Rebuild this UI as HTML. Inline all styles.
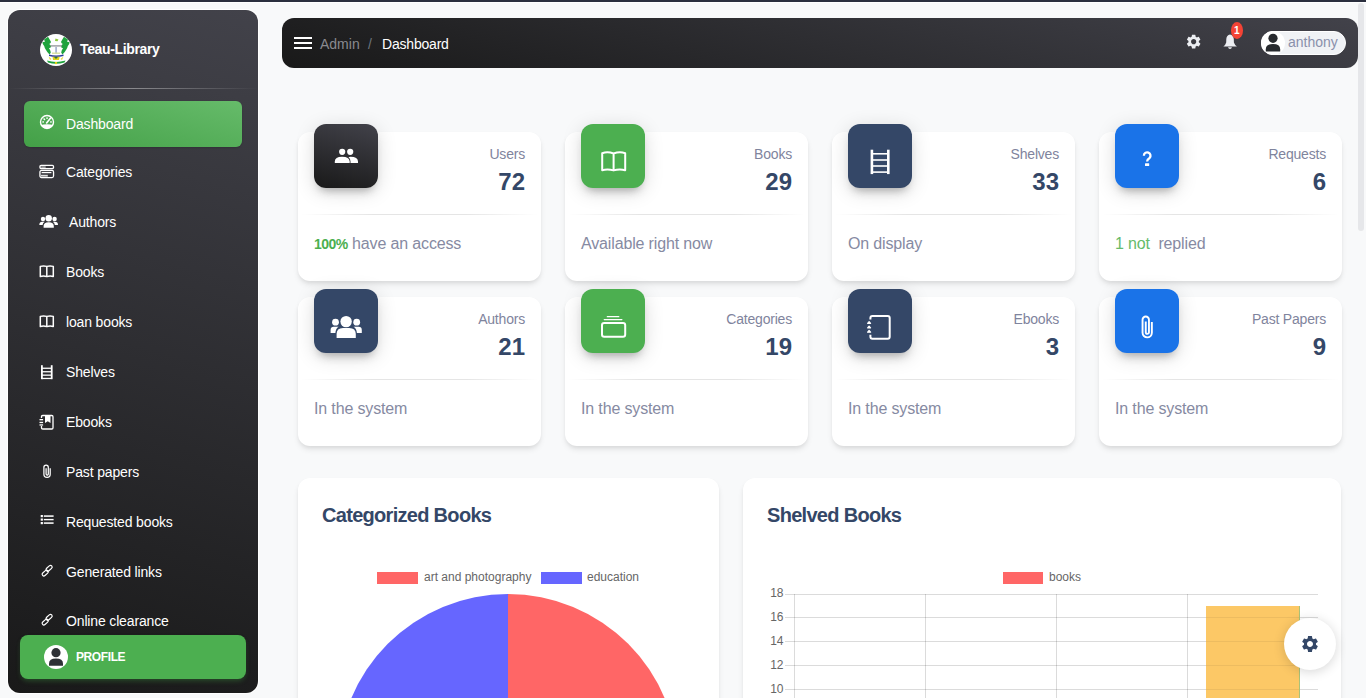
<!DOCTYPE html>
<html><head><meta charset="utf-8">
<style>
*{box-sizing:border-box;margin:0;padding:0}
html,body{width:1366px;height:698px;overflow:hidden;background:#f8f9fa;font-family:"Liberation Sans",sans-serif;}
.abs{position:absolute}
svg{position:absolute;overflow:visible}
.topline{position:absolute;left:0;top:0;width:1366px;height:2px;background:#2b2f3e}
.topwhite{position:absolute;left:0;top:2px;width:1366px;height:1px;background:#fff}
#side{position:absolute;left:8px;top:10px;width:250px;height:683px;border-radius:12px;background:linear-gradient(195deg,#42424a,#191919);box-shadow:0 0 0 1px #fff}
.brandtxt{position:absolute;left:72px;top:31px;color:#fff;font-weight:bold;font-size:14px;letter-spacing:-0.35px}
.hr{position:absolute;left:0;top:78px;width:250px;height:1px;background:linear-gradient(90deg,rgba(255,255,255,0),rgba(255,255,255,.4),rgba(255,255,255,0))}
.nav{position:absolute;left:16px;width:218px;height:46px;border-radius:6px;color:#fff;font-size:14px}
.nav.active{background:linear-gradient(195deg,#66bb6a,#43a047);box-shadow:0 1px 2px rgba(0,0,0,.15)}
.nav .t{position:absolute;left:42px;top:15px;white-space:nowrap;letter-spacing:-0.15px}
.profile{position:absolute;left:12px;top:625px;width:226px;height:44px;border-radius:8px;background:#4caf50;box-shadow:0 3px 5px -1px rgba(76,175,80,.35),0 2px 4px -1px rgba(0,0,0,.3)}
.profile .t{position:absolute;left:56px;top:15px;color:#fff;font-weight:bold;font-size:12px;letter-spacing:-0.4px}
#navbar{position:absolute;left:282px;top:18px;width:1076px;height:50px;border-radius:12px;background:linear-gradient(195deg,#42424a,#191919)}
.card{position:absolute;background:#fff;border-radius:12px;box-shadow:0 4px 6px -1px rgba(0,0,0,.1),0 2px 4px -1px rgba(0,0,0,.06)}
.icon{position:absolute;width:64px;height:64px;border-radius:12px;box-shadow:0 4px 20px 0 rgba(0,0,0,.14),0 7px 10px -5px rgba(64,64,64,.4)}
.dark{background:linear-gradient(195deg,#42424a,#191919)}
.green{background:#4caf50}
.navy{background:#344767}
.blue{background:#1a73e8}
.lbl{position:absolute;right:16px;top:14px;font-size:14px;color:#7f849d;text-align:right;white-space:nowrap;letter-spacing:-0.2px}
.num{position:absolute;right:16px;top:36px;font-size:24px;font-weight:bold;color:#344767;text-align:right}
.chr{position:absolute;left:3px;right:3px;top:82px;height:1px;background:linear-gradient(90deg,rgba(0,0,0,0),rgba(0,0,0,.1) 30%,rgba(0,0,0,.1) 70%,rgba(0,0,0,0))}
.foot{position:absolute;left:16px;top:103px;font-size:16px;color:#868aa2;white-space:nowrap;letter-spacing:-0.15px}
.scroll{position:absolute;left:1358px;top:3px;width:6px;height:228px;border-radius:3px;background:#e6e7ea}
.ctitle{position:absolute;left:24px;top:26px;font-size:20px;font-weight:bold;color:#344767;letter-spacing:-0.7px}
.leg{position:absolute;font-size:12px;color:#666;white-space:nowrap}
.ytick{position:absolute;font-size:12px;color:#666;text-align:right;width:20px}
.fab{position:absolute;left:1284px;top:618px;width:52px;height:52px;border-radius:50%;background:#fff;box-shadow:0 2px 12px rgba(0,0,0,.16)}
</style></head>
<body>
<div class="topline"></div><div class="topwhite"></div>
<div class="scroll"></div>

<div id="side">
  <!-- logo -->
  <svg style="left:32px;top:24px" width="32" height="32" viewBox="0 0 32 32">
    <circle cx="16" cy="16" r="16" fill="#fff"/>
    <path d="M8 2.8 Q10 6 11 8 Q10.5 9.5 9.2 10 Q11 11 11.2 13 Q10 14 9 14.2 Q10.5 16 10.8 18.5 Q10 20 9.5 20.5 Q7 18 6 16 Q4.5 14 4.2 12 Q3 10.5 2.3 8.5 Q3.5 7.5 5 7.8 Q4 6 4.3 5 Q6 4.5 8 2.8Z" fill="#1fa33d"/>
    <path d="M24 2.8 Q22 6 21 8 Q21.5 9.5 22.8 10 Q21 11 20.8 13 Q22 14 23 14.2 Q21.5 16 21.2 18.5 Q22 20 22.5 20.5 Q25 18 26 16 Q27.5 14 27.8 12 Q29 10.5 29.7 8.5 Q28.5 7.5 27 7.8 Q28 6 27.7 5 Q26 4.5 24 2.8Z" fill="#1fa33d"/>
    <path d="M15.5 4.5 L18.5 5.5 L17.5 7.2 L15 7Z" fill="#8fc93a"/>
    <rect x="10.5" y="11.2" width="11.5" height="1.4" fill="#9a9aa0"/>
    <rect x="15.6" y="13" width="0.9" height="7" fill="#5a6fa5"/>
    <rect x="12" y="18.5" width="8" height="1.4" fill="#d9e3a0"/>
    <path d="M9 20.6 Q16 22.6 23.5 20.6 L23.5 22 Q16 24 9 22Z" fill="#2b3c9a"/>
    <path d="M12.5 22.8 L19.7 22.8 L19 26 L13 26Z" fill="#e0d21a"/>
    <path d="M14 23 L16 25 L18 23Z" fill="#2f7a3a"/>
    <path d="M8.5 22.5 L11.5 25 L10 26 Z M23.5 22.5 L20.5 25 L22 26Z" fill="#e8de3a"/>
    <path d="M7 26.6 Q16 29.5 25.5 26.6 L24.5 28.5 Q16 31 8 28.5Z" fill="#1fa33d"/>
    <circle cx="16" cy="29" r="1.2" fill="#e0d21a"/>
  </svg>
  <div class="brandtxt">Teau-Library</div>
  <div class="hr"></div>

  <div class="nav active" style="top:91px">
    <svg style="left:11px;top:0" width="24" height="46" viewBox="0 0 24 46">
      <defs><clipPath id="gc"><circle cx="12" cy="21" r="6.6"/></clipPath></defs>
      <circle cx="12" cy="21" r="6.5" fill="none" stroke="#fff" stroke-width="1.4"/>
      <path d="M4 24.5 Q12 21.8 20 24.5 L20 30 L4 30Z" fill="#fff" clip-path="url(#gc)"/>
      <rect x="11.3" y="16.4" width="1.5" height="1.5" fill="#fff"/>
      <rect x="7.4" y="20.2" width="1.5" height="1.5" fill="#fff"/>
      <rect x="15.2" y="20.2" width="1.5" height="1.5" fill="#fff"/>
      <path d="M8.6 17.6 L10 19" stroke="#fff" stroke-width="1.4"/>
      <path d="M11.6 22 L15.6 17" stroke="#fff" stroke-width="1.6" stroke-linecap="round"/>
    </svg>
    <div class="t">Dashboard</div></div>

  <div class="nav" style="top:139px">
    <svg style="left:15px;top:15px" width="16" height="16" viewBox="0 0 16 16">
      <rect x="0.95" y="1.45" width="13.6" height="3.1" rx="1.2" fill="none" stroke="#fff" stroke-width="1.3"/>
      <rect x="0.95" y="6.45" width="13.6" height="7.1" rx="1.5" fill="none" stroke="#fff" stroke-width="1.3"/>
      <rect x="2.6" y="7.9" width="9.8" height="1.3" fill="#fff"/>
      <rect x="2.0" y="10.8" width="6.8" height="1.8" fill="#ddd"/>
      <rect x="2.2" y="2.5" width="4.5" height="1.2" fill="#ccc"/>
    </svg>
    <div class="t">Categories</div></div>

  <div class="nav" style="top:189px">
    <svg style="left:15px;top:16px" width="20" height="14" viewBox="0 0 20 14">
      <circle cx="9.7" cy="3.3" r="3.2" fill="#fff"/>
      <circle cx="4" cy="4" r="2.2" fill="#fff"/>
      <circle cx="15.6" cy="4" r="2.2" fill="#fff"/>
      <path d="M4.6 12.8 L4.6 11 Q4.6 7.2 9.7 7.2 Q14.8 7.2 14.8 11 L14.8 12.8Z" fill="#fff"/>
      <path d="M0.3 10 Q0.3 6.8 3.3 6.8 L5.6 6.8 Q3.6 8 3.6 10Z" fill="#fff"/>
      <path d="M19 10 Q19 6.8 16 6.8 L13.8 6.8 Q15.8 8 15.8 10Z" fill="#fff"/>
    </svg>
    <div class="t" style="left:45px">Authors</div></div>

  <div class="nav" style="top:239px">
    <svg style="left:15px;top:16px" width="16" height="14" viewBox="0 0 16 14">
      <path d="M1.3 1.4 Q4.6 0.4 7.8 1.4 Q11 0.4 14.3 1.4 L14.3 11.5 Q11 10.5 7.8 11.6 Q4.6 10.5 1.3 11.5Z M7.8 1.4 L7.8 11.6" fill="none" stroke="#fff" stroke-width="1.5" stroke-linejoin="round"/>
    </svg>
    <div class="t">Books</div></div>

  <div class="nav" style="top:289px">
    <svg style="left:15px;top:16px" width="16" height="14" viewBox="0 0 16 14">
      <path d="M1.3 1.4 Q4.6 0.4 7.8 1.4 Q11 0.4 14.3 1.4 L14.3 11.5 Q11 10.5 7.8 11.6 Q4.6 10.5 1.3 11.5Z M7.8 1.4 L7.8 11.6" fill="none" stroke="#fff" stroke-width="1.5" stroke-linejoin="round"/>
    </svg>
    <div class="t">loan books</div></div>

  <div class="nav" style="top:339px">
    <svg style="left:15px;top:15.6px" width="16" height="16" viewBox="0 0 16 16">
      <rect x="2" y="0.2" width="1.8" height="14" fill="#fff"/>
      <rect x="11.8" y="0.2" width="1.8" height="14" fill="#fff"/>
      <rect x="3" y="2.6" width="9.5" height="1.3" fill="#fff"/>
      <rect x="3" y="6.1" width="9.5" height="1.3" fill="#fff"/>
      <rect x="3" y="9.5" width="9.5" height="1.3" fill="#fff"/>
      <rect x="3" y="12.8" width="9.5" height="1.3" fill="#fff"/>
    </svg>
    <div class="t">Shelves</div></div>

  <div class="nav" style="top:389px">
    <svg style="left:15px;top:15.5px" width="16" height="16" viewBox="0 0 16 16">
      <path d="M2.5 3 L2.5 1.8 Q2.5 0.5 3.8 0.5 L12.8 0.5 Q14 0.5 14 1.8 L14 12.8 Q14 14 12.8 14 L3.8 14 Q2.5 14 2.5 12.8 L2.5 11" fill="none" stroke="#fff" stroke-width="1.3"/>
      <path d="M6 1 L11.5 1 L11.5 8 L8.8 6.2 L6 8Z" fill="#fff"/>
      <rect x="0.5" y="4" width="3.6" height="1.3" fill="#fff"/>
      <rect x="0.5" y="6.8" width="3.6" height="1.3" fill="#fff"/>
      <rect x="0.5" y="9.3" width="3.6" height="1.3" fill="#fff"/>
    </svg>
    <div class="t">Ebooks</div></div>

  <div class="nav" style="top:439px">
    <svg style="left:15px;top:15px" width="16" height="16" viewBox="0 0 16 16">
      <path d="M11.2 4.2 L11.2 10.3 A3.15 3.15 0 0 1 4.9 10.3 L4.9 3.3 A2.2 2.2 0 0 1 9.3 3.3 L9.3 10.1 A1.1 1.1 0 0 1 7.1 10.1 L7.1 4.2" fill="none" stroke="#fff" stroke-width="1.25"/>
    </svg>
    <div class="t">Past papers</div></div>

  <div class="nav" style="top:489px">
    <svg style="left:15px;top:15px" width="16" height="16" viewBox="0 0 16 16">
      <rect x="1.7" y="1" width="2.2" height="2.2" fill="#fff"/>
      <rect x="1.7" y="4.5" width="2.2" height="2.2" fill="#fff"/>
      <rect x="1.7" y="8" width="2.2" height="2.2" fill="#fff"/>
      <rect x="4.8" y="1.2" width="9.8" height="1.8" fill="#ddd"/>
      <rect x="4.8" y="4.9" width="9.8" height="1.4" fill="#fff"/>
      <rect x="4.8" y="8.2" width="9.8" height="1.8" fill="#ddd"/>
    </svg>
    <div class="t">Requested books</div></div>

  <div class="nav" style="top:539px">
    <svg style="left:15px;top:15px" width="16" height="16" viewBox="0 0 16 16">
      <rect x="6.6" y="2.6" width="7" height="3.4" rx="1.7" transform="rotate(-42 10.1 4.3)" fill="none" stroke="#fff" stroke-width="1.2"/>
      <rect x="2.7" y="7.4" width="7" height="3.4" rx="1.7" transform="rotate(-42 6.2 9.1)" fill="none" stroke="#fff" stroke-width="1.2"/>
    </svg>
    <div class="t">Generated links</div></div>

  <div class="nav" style="top:588px">
    <svg style="left:15px;top:15px" width="16" height="16" viewBox="0 0 16 16">
      <rect x="6.6" y="2.6" width="7" height="3.4" rx="1.7" transform="rotate(-42 10.1 4.3)" fill="none" stroke="#fff" stroke-width="1.2"/>
      <rect x="2.7" y="7.4" width="7" height="3.4" rx="1.7" transform="rotate(-42 6.2 9.1)" fill="none" stroke="#fff" stroke-width="1.2"/>
    </svg>
    <div class="t">Online clearance</div></div>

  <div class="profile">
    <svg style="left:24px;top:10px" width="24" height="24" viewBox="0 0 24 24">
      <circle cx="12" cy="12" r="12" fill="#fff"/>
      <circle cx="12" cy="7.7" r="4.6" fill="#2d3035"/>
      <path d="M5 20.8 L5 18.5 Q5 13.6 12 13.6 Q19 13.6 19 18.5 L19 20.8Z" fill="#2d3035"/>
    </svg>
    <div class="t">PROFILE</div>
  </div>
</div>

<div id="navbar">
  <div class="abs" style="left:12px;top:18.7px;width:18px;height:2.3px;background:#fff"></div>
  <div class="abs" style="left:12px;top:23.8px;width:18px;height:2.3px;background:#fff"></div>
  <div class="abs" style="left:12px;top:28.7px;width:18px;height:2.3px;background:#fff"></div>
  <div class="abs" style="left:38px;top:18px;font-size:14px;color:#8a8a8f;white-space:nowrap">Admin</div>
  <div class="abs" style="left:86px;top:18px;font-size:14px;color:#6c757d">/</div>
  <div class="abs" style="left:100px;top:18px;font-size:14px;color:#fff;letter-spacing:-0.2px">Dashboard</div>
  <!-- gear -->
  <svg style="left:902.5px;top:15.4px" width="17.3" height="17.3" viewBox="0 0 24 24">
    <path fill="#eceef2" d="M19.14 12.94c.04-.3.06-.61.06-.94 0-.32-.02-.64-.07-.94l2.03-1.58a.49.49 0 0 0 .12-.61l-1.92-3.32a.488.488 0 0 0-.59-.22l-2.39.96c-.5-.38-1.03-.7-1.62-.94l-.36-2.54a.484.484 0 0 0-.48-.41h-3.84c-.24 0-.43.17-.47.41l-.36 2.54c-.59.24-1.13.57-1.62.94l-2.39-.96c-.22-.08-.47 0-.59.22L2.74 8.87c-.12.21-.08.47.12.61l2.03 1.58c-.05.3-.09.63-.09.94s.02.64.07.94l-2.03 1.58a.49.49 0 0 0-.12.61l1.92 3.32c.12.22.37.29.59.22l2.39-.96c.5.38 1.03.7 1.62.94l.36 2.54c.05.24.24.41.48.41h3.84c.24 0 .44-.17.47-.41l.36-2.54c.59-.24 1.13-.56 1.62-.94l2.39.96c.22.08.47 0 .59-.22l1.92-3.32c.12-.22.07-.47-.12-.61l-2.01-1.58zM12 15.6c-1.98 0-3.6-1.62-3.6-3.6s1.62-3.6 3.6-3.6 3.6 1.62 3.6 3.6-1.62 3.6-3.6 3.6z"/>
  </svg>
  <!-- bell -->
  <svg style="left:941px;top:16px" width="14" height="15" viewBox="0 0 14 15">
    <path d="M7 0.4 Q10.4 0.9 10.8 5 L10.9 8.6 Q11.6 10.9 13.9 12.5 L0.4 12.5 Q2.6 10.9 3.2 8.6 L3.3 5 Q3.6 0.9 7 0.4Z" fill="#eceef2"/>
    <path d="M5 13.2 L9 13.2 Q8.5 15 7 15 Q5.5 15 5 13.2Z" fill="#eceef2"/>
  </svg>
  <div class="abs" style="left:948.5px;top:4px;width:12.5px;height:17px;border-radius:50%;background:#f44335;color:#fff;font-size:10px;font-weight:bold;text-align:center;line-height:17px">1</div>
  <!-- user pill -->
  <div class="abs" style="left:979px;top:13px;width:85px;height:24px;border-radius:12px;background:#f0f2f5;border:1px solid #fff"></div>
  <svg style="left:979px;top:13px" width="24" height="24" viewBox="0 0 24 24">
    <circle cx="12" cy="12" r="12" fill="#fff"/>
    <circle cx="12" cy="7.3" r="4.6" fill="#272a2e"/>
    <path d="M4.8 20.6 L4.8 18.2 Q4.8 12.9 12 12.9 Q19.2 12.9 19.2 18.2 L19.2 20.6Z" fill="#272a2e"/>
  </svg>
  <div class="abs" style="left:1006px;top:16px;font-size:14px;color:#8a90ab">anthony</div>
</div>

<!-- cards row 1 -->
<div class="card" style="left:298px;top:132px;width:243px;height:149px"><div class="lbl">Users</div><div class="num">72</div><div class="chr"></div><div class="foot"><b style="color:#4caf50;font-weight:bold;font-size:14px;letter-spacing:-0.5px">100%</b> have an access</div></div>
<div class="icon dark" style="left:314px;top:124px">
  <svg style="left:20px;top:24px" width="24" height="16" viewBox="0 0 24 16">
    <circle cx="8.2" cy="3.8" r="3.1" fill="#fff"/>
    <circle cx="16.2" cy="3.8" r="3.1" fill="#fff"/>
    <path d="M0.8 15 L0.8 13.5 Q0.8 8.7 8 8.7 Q15.7 8.7 15.7 13.5 L15.7 15Z" fill="#fff"/>
    <path d="M16.5 15 L16.5 13.5 Q16.5 10.8 14.5 9.2 Q15.3 8.7 16.5 8.7 Q24 8.7 24 13.5 L24 15Z" fill="#fff"/>
  </svg>
</div>
<div class="card" style="left:565px;top:132px;width:243px;height:149px"><div class="lbl">Books</div><div class="num">29</div><div class="chr"></div><div class="foot">Available right now</div></div>
<div class="icon green" style="left:581px;top:124px">
  <svg style="left:19.5px;top:26.7px" width="26" height="21" viewBox="0 0 26 21">
    <path d="M1.2 2.2 Q6.6 0.4 12.6 2.5 Q18.6 0.4 24.2 2.2 L24.2 19.2 Q18.6 17.5 12.6 19.4 Q6.6 17.5 1.2 19.2Z M12.6 2.5 L12.6 19.4" fill="none" stroke="#fff" stroke-width="2" stroke-linejoin="round"/>
  </svg>
</div>
<div class="card" style="left:832px;top:132px;width:243px;height:149px"><div class="lbl">Shelves</div><div class="num">33</div><div class="chr"></div><div class="foot">On display</div></div>
<div class="icon navy" style="left:848px;top:124px">
  <svg style="left:22px;top:25px" width="20" height="26" viewBox="0 0 20 26">
    <rect x="0.6" y="0.7" width="2.6" height="24.4" fill="#fff"/>
    <rect x="17" y="0.7" width="2.6" height="24.4" fill="#fff"/>
    <rect x="3" y="4" width="14.2" height="1.6" fill="#fff"/>
    <rect x="3" y="10.2" width="14.2" height="1.6" fill="#fff"/>
    <rect x="3" y="16.2" width="14.2" height="1.6" fill="#fff"/>
    <rect x="3" y="22.3" width="14.2" height="1.6" fill="#fff"/>
  </svg>
</div>
<div class="card" style="left:1099px;top:132px;width:243px;height:149px"><div class="lbl">Requests</div><div class="num">6</div><div class="chr"></div><div class="foot"><span style="color:#66bb6a">1 not</span>&nbsp; replied</div></div>
<div class="icon blue" style="left:1115px;top:124px">
  <svg style="left:0;top:0" width="64" height="64" viewBox="0 0 64 64">
    <path d="M28.9 31.7 A3.3 3.3 0 1 1 34.6 33.9 Q32.1 35.4 32.1 37.4" fill="none" stroke="#fff" stroke-width="2.3"/>
    <rect x="30" y="39.3" width="4.2" height="2.6" rx="0.5" fill="#fff"/>
  </svg>
</div>

<!-- cards row 2 -->
<div class="card" style="left:298px;top:297px;width:243px;height:149px"><div class="lbl">Authors</div><div class="num">21</div><div class="chr"></div><div class="foot">In the system</div></div>
<div class="icon navy" style="left:314px;top:289px">
  <svg style="left:16px;top:26px" width="32" height="24" viewBox="0 0 32 24">
    <circle cx="16.1" cy="6.6" r="5.7" fill="#fff"/>
    <circle cx="5.5" cy="7.2" r="3.4" fill="#fff"/>
    <circle cx="26.7" cy="7.2" r="3.4" fill="#fff"/>
    <path d="M6.6 23 L6.6 19 Q6.6 12.9 13 12.9 L19.2 12.9 Q25.8 12.9 25.8 19 L25.8 23Z" fill="#fff"/>
    <path d="M0.6 18.1 L0.6 15 Q0.6 11.8 3.8 11.8 L8.6 11.8 Q5.6 13.6 5.4 18.1Z" fill="#fff"/>
    <path d="M31.8 18.1 L31.8 15 Q31.8 11.8 28.6 11.8 L23.6 11.8 Q26.6 13.6 26.9 18.1Z" fill="#fff"/>
  </svg>
</div>
<div class="card" style="left:565px;top:297px;width:243px;height:149px"><div class="lbl">Categories</div><div class="num">19</div><div class="chr"></div><div class="foot">In the system</div></div>
<div class="icon green" style="left:581px;top:289px">
  <svg style="left:19px;top:26px" width="26" height="24" viewBox="0 0 26 24">
    <rect x="2" y="7.9" width="23.2" height="13.9" rx="2.2" fill="none" stroke="#fff" stroke-width="2"/>
    <rect x="6.7" y="1" width="12.7" height="1.3" rx=".6" fill="#fff"/>
    <rect x="3.6" y="3.9" width="18.9" height="1.3" rx=".6" fill="#fff"/>
  </svg>
</div>
<div class="card" style="left:832px;top:297px;width:243px;height:149px"><div class="lbl">Ebooks</div><div class="num">3</div><div class="chr"></div><div class="foot">In the system</div></div>
<div class="icon navy" style="left:848px;top:289px">
  <svg style="left:19px;top:26px" width="26" height="24" viewBox="0 0 26 24">
    <path d="M3.4 4.5 L3.4 3 Q3.4 1 5.4 1 L20.7 1 Q22.7 1 22.7 3 L22.7 21.8 Q22.7 23.8 20.7 23.8 L5.4 23.8 Q3.4 23.8 3.4 21.8 L3.4 19.8" fill="none" stroke="#fff" stroke-width="2"/>
    <path d="M0.6 8.3 L3.6 8.3 L2.1 6.6Z M0.6 12.8 L3.6 12.8 L2.1 11.1Z M0.6 17.2 L3.6 17.2 L2.1 15.5Z" fill="#fff" stroke="#fff" stroke-width="1.2" stroke-linejoin="round"/>
  </svg>
</div>
<div class="card" style="left:1099px;top:297px;width:243px;height:149px"><div class="lbl">Past Papers</div><div class="num">9</div><div class="chr"></div><div class="foot">In the system</div></div>
<div class="icon blue" style="left:1115px;top:289px">
  <svg style="left:26px;top:26px" width="12" height="24" viewBox="0 0 12 24">
    <path d="M10.85 6.9 L10.85 17.7 A4.65 4.65 0 0 1 1.55 17.7 L1.55 4.75 A3.2 3.2 0 0 1 7.95 4.75 L7.95 17.25 A1.6 1.6 0 0 1 4.75 17.25 L4.75 6.6" fill="none" stroke="#fff" stroke-width="1.9"/>
  </svg>
</div>

<!-- charts -->
<div class="card" style="left:298px;top:478px;width:421px;height:260px;overflow:hidden">
  <div class="ctitle">Categorized Books</div>
  <div class="abs" style="left:79px;top:93.5px;width:41px;height:12.5px;background:#ff6666"></div>
  <div class="leg" style="left:126px;top:92px">art and photography</div>
  <div class="abs" style="left:243px;top:93.5px;width:41px;height:12.5px;background:#6666ff"></div>
  <div class="leg" style="left:289px;top:92px">education</div>
  <svg style="left:0;top:0" width="421" height="260">
    <path d="M210 286 L210 116 A170 170 0 0 1 380 286Z" fill="#ff6666"/>
    <path d="M210 286 L40 286 A170 170 0 0 1 210 116Z" fill="#6666ff"/>
  </svg>
</div>
<div class="card" style="left:743px;top:478px;width:598px;height:260px;overflow:hidden">
  <div class="ctitle">Shelved Books</div>
  <div class="abs" style="left:260px;top:93.5px;width:40px;height:12.5px;background:#ff6666"></div>
  <div class="leg" style="left:306px;top:92px">books</div>
  <svg style="left:0;top:0" width="598" height="260">
    <g stroke="rgba(0,0,0,0.14)" stroke-width="1">
      <path d="M42 116.5 H575 M42 139.5 H575 M42 163.5 H575 M42 187.5 H575 M42 211.5 H575 M42 235.5 H575"/>
      <path d="M51.5 116 V260 M182.5 116 V260 M313.5 116 V260 M444.5 116 V260"/>
    </g>
    <rect x="463" y="128" width="94" height="140" fill="#fcc866"/>
    <rect x="556" y="128" width="1" height="140" fill="#a9c27a"/>
    <path d="M463 139.5 H556 M463 163.5 H556 M463 187.5 H556 M463 211.5 H556 M463 235.5 H556" stroke="rgba(0,0,0,0.06)" stroke-width="1"/>
  </svg>
  <div class="ytick" style="left:20.5px;top:108px">18</div>
  <div class="ytick" style="left:20.5px;top:132px">16</div>
  <div class="ytick" style="left:20.5px;top:156px">14</div>
  <div class="ytick" style="left:20.5px;top:180px">12</div>
  <div class="ytick" style="left:20.5px;top:204px">10</div>
</div>

<div class="fab">
  <svg style="left:16px;top:16px" width="20" height="20" viewBox="0 0 24 24">
    <path fill="#344767" d="M19.14 12.94c.04-.3.06-.61.06-.94 0-.32-.02-.64-.07-.94l2.03-1.58a.49.49 0 0 0 .12-.61l-1.92-3.32a.488.488 0 0 0-.59-.22l-2.39.96c-.5-.38-1.030-.7-1.62-.94l-.36-2.54a.484.484 0 0 0-.48-.41h-3.84c-.24 0-.43.17-.47.41l-.36 2.54c-.59.24-1.130.57-1.62.94l-2.39-.96c-.22-.08-.47 0-.59.22L2.74 8.87c-.12.21-.08.47.12.61l2.03 1.58c-.05.3-.09.63-.09.94s.02.64.07.94l-2.03 1.58a.49.49 0 0 0-.12.61l1.92 3.32c.12.22.37.29.59.22l2.39-.96c.5.38 1.030.7 1.62.94l.36 2.54c.05.24.24.41.48.41h3.84c.24 0 .44-.17.47-.41l.36-2.54c.59-.24 1.130-.56 1.62-.94l2.39.96c.22.08.47 0 .59-.22l1.92-3.32c.12-.22.07-.47-.12-.61l-2.010-1.58zM12 15.6c-1.98 0-3.6-1.62-3.6-3.6s1.62-3.6 3.6-3.6 3.6 1.62 3.6 3.6-1.62 3.6-3.6 3.6z"/>
  </svg>
</div>
</body></html>
